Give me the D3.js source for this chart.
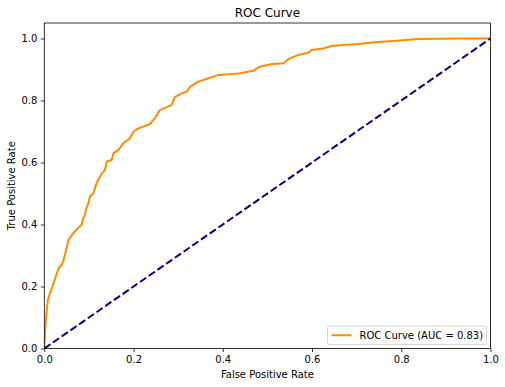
<!DOCTYPE html>
<html>
<head>
<meta charset="utf-8">
<script src="https://cdn.jsdelivr.net/npm/d3@7"></script>
<style>
  body { margin: 0; background: #fff; }
  text { font-family: "DejaVu Sans", sans-serif; fill: #000; }
</style>
</head>
<body>
<div id="chart"></div>
<script>
// ROC points (false positive rate, true positive rate)
let fpr = [0, 0.002, 0.004, 0.008, 0.012, 0.017, 0.024, 0.032, 0.039, 0.043, 0.049, 0.054, 0.065,
    0.076, 0.084, 0.087, 0.091, 0.095, 0.099, 0.102, 0.110, 0.117, 0.129, 0.136, 0.140, 0.151,
    0.155, 0.166, 0.177, 0.192, 0.200, 0.211, 0.237, 0.248, 0.259, 0.285, 0.293, 0.308, 0.319,
    0.327, 0.345, 0.368, 0.390, 0.416, 0.439, 0.468, 0.483, 0.510, 0.536, 0.547, 0.569, 0.592,
    0.599, 0.625, 0.644, 0.670, 0.704, 0.740, 0.782, 0.838, 0.928, 1.0]
let tpr = [0, 0.06, 0.10, 0.156, 0.175, 0.195, 0.225, 0.259, 0.27, 0.285, 0.318, 0.35, 0.372,
    0.389, 0.40, 0.42, 0.43, 0.457, 0.469, 0.49, 0.50, 0.533, 0.565, 0.576, 0.603, 0.608,
    0.63, 0.64, 0.662, 0.678, 0.70, 0.71, 0.724, 0.743, 0.769, 0.785, 0.812, 0.823, 0.828,
    0.845, 0.861, 0.872, 0.882, 0.885, 0.888, 0.896, 0.909, 0.918, 0.92, 0.933, 0.947, 0.954,
    0.963, 0.968, 0.976, 0.979, 0.982, 0.988, 0.992, 0.998, 1.0, 1.0]
let diagX = [0, 1]
let diagY = [0, 1]
let ticks = [0, 0.2, 0.4, 0.6, 0.8, 1.0]
let aucLabel = "ROC Curve (AUC = 0.83)"

let width = 505, height = 387
let margin = { top: 23, right: 14.5, bottom: 38.5, left: 44.3 }
let innerW = width - margin.left - margin.right,
    innerH = height - margin.top - margin.bottom

let svg = d3.select("#chart").append("svg")
    .attr("width", width)
    .attr("height", height)

let x = d3.scaleLinear().domain([0, 1]).range([0, innerW])
let y = d3.scaleLinear().domain([0, 1.05]).range([innerH, 0])

let g = svg.append("g")
    .attr("transform", "translate(" + margin.left + "," + margin.top + ")")

g.append("clipPath").attr("id", "clip")
    .append("rect").attr("width", innerW).attr("height", innerH)

let line = d3.line()
    .x(function (d) { return x(d[0]) })
    .y(function (d) { return y(d[1]) })

// roc curve
g.append("path")
    .datum(fpr.map(function (v, i) { return [v, tpr[i]] }))
    .attr("d", line)
    .attr("clip-path", "url(#clip)")
    .attr("fill", "none")
    .attr("stroke", "#ff8c00")
    .attr("stroke-width", 2)
    .attr("stroke-linejoin", "round")

// chance line
g.append("path")
    .datum(diagX.map(function (v, i) { return [v, diagY[i]] }))
    .attr("d", line)
    .attr("clip-path", "url(#clip)")
    .attr("fill", "none")
    .attr("stroke", "#000080")
    .attr("stroke-width", 2)
    .attr("stroke-dasharray", "7.4,3.2")

// axes
let xAxis = g.append("g")
    .attr("transform", "translate(0," + innerH + ")")
    .call(d3.axisBottom(x).tickValues(ticks).tickFormat(d3.format(".1f")).tickSize(3.5).tickPadding(3.5))
let yAxis = g.append("g")
    .call(d3.axisLeft(y).tickValues(ticks).tickFormat(d3.format(".1f")).tickSize(3.5).tickPadding(3.5))

;[xAxis, yAxis].forEach(function (a) {
    a.select(".domain").remove()
    a.selectAll("line").attr("stroke", "#000").attr("stroke-width", 0.8)
    a.selectAll("text").style("font-size", "10px").attr("fill", "#000")
})

g.append("rect")
    .attr("width", innerW).attr("height", innerH)
    .attr("fill", "none")
    .attr("stroke", "#000")
    .attr("stroke-width", 0.8)

// titles
svg.append("text")
    .attr("x", margin.left + innerW / 2)
    .attr("y", 17)
    .attr("text-anchor", "middle")
    .style("font-size", "12px")
    .text("ROC Curve")

svg.append("text")
    .attr("x", margin.left + innerW / 2)
    .attr("y", 378)
    .attr("text-anchor", "middle")
    .style("font-size", "10px")
    .text("False Positive Rate")

svg.append("text")
    .attr("transform", "translate(15," + (margin.top + innerH / 2) + ") rotate(-90)")
    .attr("text-anchor", "middle")
    .style("font-size", "10px")
    .text("True Positive Rate")

// legend
let legW = 159, legH = 18.5
let leg = g.append("g")
    .attr("transform", "translate(" + (innerW - 4 - legW) + "," + (innerH - 4 - legH) + ")")
leg.append("rect")
    .attr("width", legW).attr("height", legH)
    .attr("rx", 2)
    .attr("fill", "#fff").attr("fill-opacity", 0.8)
    .attr("stroke", "#cccccc").attr("stroke-width", 0.8)
leg.append("line")
    .attr("x1", 4).attr("x2", 24)
    .attr("y1", legH / 2).attr("y2", legH / 2)
    .attr("stroke", "#ff8c00").attr("stroke-width", 2)
leg.append("text")
    .attr("x", 32).attr("y", legH / 2)
    .attr("dy", "0.35em")
    .style("font-size", "10px")
    .text(aucLabel)
</script>
</body>
</html>
